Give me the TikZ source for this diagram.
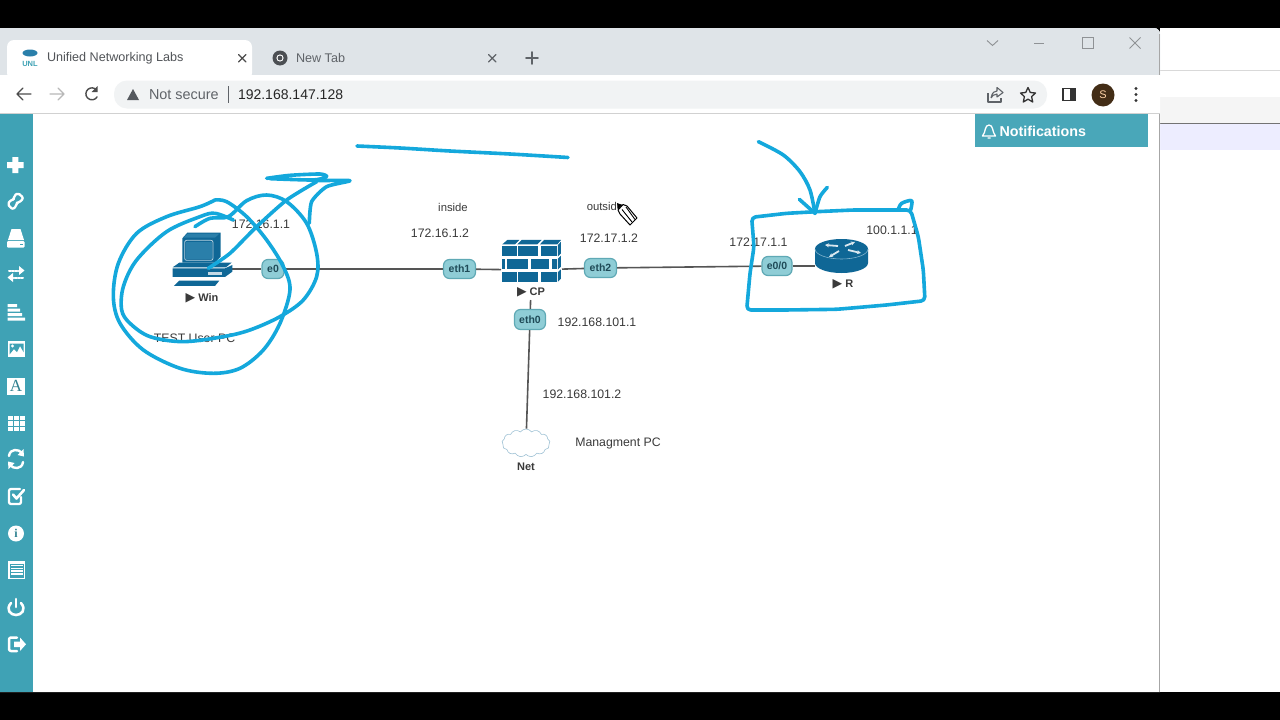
\documentclass[tikz,border=0pt]{standalone}
\usepackage{fontspec}
\setmainfont{Liberation Sans}
\newfontfamily\dejavu{DejaVu Sans}
\newfontfamily\libserif{Liberation Serif}
\usetikzlibrary{shapes.symbols,arrows.meta}
\definecolor{inkblue}{HTML}{14A8DC}
\definecolor{teal}{HTML}{3FA2B5}
\definecolor{icoblue}{HTML}{0F6796}
\definecolor{icolight}{HTML}{2A7FAA}
\definecolor{pillfill}{HTML}{8FCDD6}
\definecolor{pilledge}{HTML}{5FA9B5}
\definecolor{pilltext}{HTML}{1F4A57}
\definecolor{linkc}{HTML}{555555}
\definecolor{txt}{HTML}{3A3A3A}
\definecolor{chromebg}{HTML}{DFE4E8}
\definecolor{barbg}{HTML}{F1F3F4}
\definecolor{uigray}{HTML}{5F6368}
\tikzset{
  ink/.style={draw=inkblue,line width=3.6pt,line cap=round,line join=round},
  pill/.style={draw=pilledge,line width=1.2pt,fill=pillfill,rounded corners=6pt,inner sep=0pt,text=pilltext,font=\fontsize{10.5}{12}\selectfont\bfseries,minimum height=19pt},
  ghost/.style={inner sep=0pt,outer sep=0pt},
  conn/.style={draw=linkc,line width=1.6pt},
  lab/.style={text=txt,inner sep=0pt,font=\fontsize{12.3}{14}\selectfont},
  devlab/.style={text=txt,inner sep=0pt,font=\fontsize{11}{13}\selectfont\bfseries},
  ui/.style={draw=uigray,line width=1.4pt,line cap=round,line join=round},
  side/.style={fill=white,draw=none},
  sidel/.style={draw=white,line width=2.4pt,line cap=round,line join=round},
}
\newcommand{\tri}{{\dejavu\fontsize{12.5}{13}\selectfont ▶}}
\begin{document}
\begin{tikzpicture}[x=1pt,y=-1pt]
\useasboundingbox (0,0) rectangle (1280,720);
% page and backdrop
\fill[black] (0,0) rectangle (1280,720);
\fill[white] (1160,28) rectangle (1280,692);
\fill[white!96!black] (1160,97) rectangle (1280,123);
\draw[black!15] (1160,70) -- (1280,70);
\fill[blue!7] (1160,124) rectangle (1280,150);
\draw[black!55,line width=1pt] (1160,123.5) -- (1280,123.5);
% browser window
\fill[white] (0,28) -- (1154,28) arc[start angle=-90,end angle=0,radius=6] -- (1160,692) -- (0,692) -- cycle;
\fill[chromebg] (0,28) -- (1154,28) arc[start angle=-90,end angle=0,radius=6] -- (1160,75) -- (0,75) -- cycle;
\draw[black!35,line width=.8pt] (1159.6,34) -- (1159.6,692);
% tabs
\fill[white,rounded corners=7pt] (7,80) -- (7,40) -- (252,40) -- (252,80) -- cycle;
\fill[white] (0,75) rectangle (1160,113);
\draw[black!18] (0,113.5) -- (1160,113.5);
\fill[barbg,rounded corners=13pt] (114,80.5) rectangle (1047,108.5);
% UNL favicon
\fill[icolight] (30,53) ellipse[x radius=7.5,y radius=3.5];
\node[ghost,text=teal,font=\fontsize{7.5}{8}\selectfont\bfseries] (unl) at (30,63.5) {UNL};
\node[ghost,anchor=west,text=uigray!85!black,font=\fontsize{12.6}{14}\selectfont] (tab1) at (47,58) {Unified Networking Labs};
\draw[ui,black!70,line width=1.2pt] (238.5,54.5) -- (246,62) (246,54.5) -- (238.5,62);
% chrome icon
\fill[uigray!80!black] (280,58) circle[radius=7.5];
\fill[white] (280,58) circle[radius=3.6];
\fill[uigray!80!black] (280,58) circle[radius=2.4];
\node[ghost,anchor=west,text=uigray,font=\fontsize{12.6}{14}\selectfont] (tab2) at (296,58) {New Tab};
\draw[ui,line width=1.2pt] (488.5,54.5) -- (496,62) (496,54.5) -- (488.5,62);
\draw[ui,line width=1.7pt] (532,52) -- (532,64) (526,58) -- (538,58);
% window controls
\draw[uigray!70,line width=.9pt] (987,40.5) -- (992.5,45.5) -- (998,40.5);
\draw[uigray!70,line width=.9pt] (1034,43) -- (1044,43);
\draw[uigray!70,line width=.9pt] (1082.5,37.5) rectangle (1093.5,48.5);
\draw[uigray!70,line width=.9pt] (1129.5,37.5) -- (1140.5,48.5) (1140.5,37.5) -- (1129.5,48.5);
% toolbar
\draw[ui,line width=1.3pt,black!70] (31,94) -- (17,94) (23,88) -- (17,94) -- (23,100);
\draw[ui,line width=1.2pt,black!28] (64,94) -- (50,94) (58,88) -- (64,94) -- (58,100);
\draw[ui,line width=1.4pt,black!70] (96.5,90) arc[start angle=-40,end angle=-330,radius=6];
\fill[black!70] (97.5,86) -- (97.5,92) -- (91.5,92) -- cycle;
\fill[uigray!90!black] (133,89) -- (139,100) -- (127,100) -- cycle;
\node[ghost,anchor=west,text=uigray,font=\fontsize{14.4}{16}\selectfont] (ns) at (149,95) {Not secure};
\draw[uigray,line width=1pt] (228,86) -- (228,103);
\node[ghost,anchor=west,text=black!85,font=\fontsize{14}{16}\selectfont] (url) at (238,95) {192.168.147.128};
% share
\draw[uigray,line width=1.1pt,line join=round] (988,93) -- (988,102) -- (1001,102) -- (1001,98);
\draw[uigray,line width=1.1pt,line join=round] (991,98) .. controls (992,92) and (995,91) .. (997,91) -- (997,87.5) -- (1003,92.5) -- (997,97) -- (997,94) .. controls (994,94) and (992,96) .. (991,98);
% star
\draw[black!80,line width=1.3pt,line join=round] (1028,87.5) -- (1030.3,92.5) -- (1035.5,93) -- (1031.6,96.6) -- (1032.7,102) -- (1028,99.2) -- (1023.3,102) -- (1024.4,96.6) -- (1020.5,93) -- (1025.7,92.5) -- cycle;
% side panel
\draw[black!80,line width=1.5pt] (1063,88.5) rectangle (1075,100.5);
\fill[black!80] (1069.5,88.5) rectangle (1075,100.5);
% avatar
\node[circle,fill=brown!35!black,minimum size=23pt,inner sep=0pt,text=orange!35!white,font=\fontsize{11}{12}\selectfont] (avatar) at (1103,95) {S};
\fill[black!80] (1136,88.5) circle[radius=1.7] (1136,94.5) circle[radius=1.7] (1136,100.5) circle[radius=1.7];
% sidebar
\fill[teal] (0,114) rectangle (33,692);
% plus
\fill[side] (12.3,157) rectangle (18.3,173) (7,162) rectangle (23.5,168);
% link
\draw[sidel,line width=2.3pt,rounded corners=2pt] (13.5,199.5) -- (14,196) -- (18,192.8) -- (23.5,198) -- (19.5,202.5) -- (17,203);
\draw[sidel,line width=2.3pt,rounded corners=2pt] (17,202.5) -- (16.5,206) -- (12.5,209.5) -- (7.5,204) -- (11.5,199.5) -- (14,199);
% drive
\fill[side] (11.5,229) -- (20.5,229) -- (24,240) -- (8,240) -- cycle;
\fill[side,rounded corners=1pt] (7,241) rectangle (24.5,247.5);
\fill[teal] (20,243.5) rectangle (22.5,245);
% transfer arrows
\draw[sidel,line width=2pt,dash pattern=on 2pt off 1.2pt] (9,270.5) -- (19,270.5);
\fill[side] (19,266) -- (24.5,270.5) -- (19,275) -- cycle;
\draw[sidel,line width=2pt,dash pattern=on 2pt off 1.2pt] (23,277.5) -- (13,277.5);
\fill[side] (13,273) -- (7.5,277.5) -- (13,282) -- cycle;
% align
\fill[side] (7.5,304) rectangle (17,307) (7.5,308.5) rectangle (20,311.5) (7.5,313) rectangle (22,316) (7.5,317.5) rectangle (25,320.5);
% picture
\fill[side] (7.5,341) rectangle (25,357);
\fill[teal] (9.5,354.5) -- (14,349) -- (17,352) -- (20,346) -- (23.5,352) -- (23.5,343.5) -- (9.5,343.5) -- cycle;
\fill[white] (12.5,346) circle[radius=1.6];
% A
\node[fill=white,minimum width=18pt,minimum height=17pt,inner sep=0pt,text=teal!80!black,font=\libserif\fontsize{17}{18}\selectfont] (btnA) at (16,386) {A};
% grid
\foreach \cx in {8,14,20}{\foreach \cy in {415.5,421,426.5}{\fill[side] (\cx,\cy) rectangle ++(5,4.5);}}
% refresh
\draw[sidel,line width=2.4pt] (9,456) .. controls (10,448) and (19,449) .. (22,453);
\fill[side] (23.5,449) -- (24,456.5) -- (17.5,455) -- cycle;
\draw[sidel,line width=2.4pt] (23,462) .. controls (22,470) and (13,469) .. (10,465);
\fill[side] (8.5,469) -- (8,461.5) -- (14.5,463) -- cycle;
% check
\draw[sidel,line width=2.3pt,rounded corners=2pt] (21,497) -- (21,504) -- (9,504) -- (9,489) -- (20,489);
\draw[sidel,line width=2.6pt] (13,494.5) -- (16.5,498.5) -- (24,490);
% info
\node[circle,fill=white,minimum size=16pt,inner sep=0pt,text=teal!80!black,font=\libserif\fontsize{12}{13}\selectfont\bfseries] (btnI) at (16,533.5) {i};
% list
\fill[side] (8,561) rectangle (25,579);
\fill[teal] (9.5,563.5) rectangle (23.5,577.5);
\foreach \ly in {564.8,567.6,570.4,573.2}{\fill[side] (10.5,\ly) rectangle (23,\ly+1.6);}
% power
\draw[sidel,line width=2.6pt] (11,603) .. controls (5,610) and (11,615) .. (16,615) .. controls (21,615) and (27,610) .. (21,603);
\draw[sidel,line width=2.6pt] (16,599) -- (16,607);
% exit
\draw[sidel,line width=2.5pt,rounded corners=2pt] (17,637.5) -- (9,637.5) -- (9,651) -- (17,651);
\fill[side] (14,641.5) -- (20,641.5) -- (20,637.5) -- (26,644.3) -- (20,651) -- (20,647) -- (14,647) -- cycle;
% notifications
\fill[teal!95!white] (975,114) rectangle (1148,147);
\draw[white,line width=1.3pt,line join=round] (982.5,136) .. controls (986,132) and (984.5,125) .. (989,125) .. controls (993.5,125) and (992,132) .. (995.5,136) -- cycle (987.5,138) -- (990.5,138);
\node[ghost,anchor=west,text=white,font=\fontsize{14.3}{16}\selectfont\bfseries] (notif) at (999.5,131) {Notifications};
% device nodes (their icons are drawn below)
\node[ghost,minimum width=60pt,minimum height=72pt] (win) at (202,269) {};
\node[ghost,minimum width=61pt,minimum height=60pt] (cp) at (531.5,270) {};
\node[ghost,minimum width=53pt,minimum height=52pt] (r) at (841.5,266) {};
\node[cloud,cloud puffs=13,cloud puff arc=110,aspect=1.8,draw=icoblue!40,fill=white,line width=.6pt,minimum width=48pt,minimum height=28pt,inner sep=0pt] (net) at (526,443) {};
% ports
\node[pill,minimum width=22pt] (e0) at (273,269) {e0};
\node[pill,minimum width=32pt] (eth1) at (459.5,269) {eth1};
\node[pill,minimum width=32pt] (eth2) at (600.5,268) {eth2};
\node[pill,minimum width=31pt,minimum height=20pt] (eth0) at (530,319.5) {eth0};
\node[pill,minimum width=30pt] (e00) at (777,266) {e0/0};
% connectors
\draw[conn] (win) -- (e0);
\draw[conn] (e0) -- (eth1);
\draw[conn] (eth1) -- (cp);
\draw[conn] (cp) -- (eth2);
\draw[conn] (eth2) -- (e00);
\draw[conn] (e00) -- (r);
\draw[conn] (eth0) -- (cp);
\draw[conn] (eth0) -- (net);
% PC icon
\begin{scope}[shift={(100,160)},x=.3333pt,y=-.3333pt]
\fill[icoblue] (247,235) -- (262,218) -- (362,218) -- (362,290) -- (345,308) -- (247,308) -- cycle;
\fill[icolight] (250,233) -- (263,221) -- (358,221) -- (345,233) -- cycle;
\fill[icolight] (257,245) rectangle (336,298);
\draw[white!70!icoblue,line width=.8pt,rounded corners=2pt] (254,241) rectangle (339,301);
\fill[icoblue] (238,308) -- (395,308) -- (378,322) -- (218,322) -- cycle;
\fill[icoblue] (218,325) -- (375,325) -- (397,315) -- (397,335) -- (375,351) -- (218,351) -- cycle;
\fill[white!75!icoblue] (325,337) rectangle (365,344);
\fill[icoblue] (238,362) -- (358,362) -- (345,378) -- (222,378) -- cycle;
\end{scope}
% firewall icon
\begin{scope}[shift={(400,190)},x=.3333pt,y=-.3333pt]
\fill[icoblue] (307,163) -- (322,150) -- (358,150) -- (345,163) -- cycle;
\fill[icoblue] (352,163) -- (365,150) -- (425,150) -- (412,163) -- cycle;
\fill[icoblue] (420,163) -- (432,150) -- (483,150) -- (472,163) -- cycle;
\foreach \xa/\xb in {305/350,355/415,422/470}{\fill[icoblue] (\xa,167) rectangle (\xb,197);\fill[icoblue] (\xa,246) rectangle (\xb,275);}
\foreach \xa/\xb in {305/315,322/385,392/448,456/470}{\fill[icoblue] (\xa,206) rectangle (\xb,237);}
\fill[icoblue] (474,165) -- (483,155) -- (483,190) -- (474,199) -- cycle;
\fill[icoblue] (474,206) -- (483,197) -- (483,230) -- (474,238) -- cycle;
\fill[icoblue] (474,246) -- (483,238) -- (483,266) -- (474,275) -- cycle;
\end{scope}
% router icon
\fill[icoblue] (815,249) -- (815,263) arc[start angle=180,end angle=0,x radius=26.5,y radius=10] -- (868,249) -- cycle;
\fill[icoblue] (841.5,249) ellipse[x radius=26.5,y radius=10];
\draw[icolight!60!white,line width=.6pt] (815,249) arc[start angle=180,end angle=0,x radius=26.5,y radius=10];
\draw[white!85!icoblue,line width=1.8pt,-{Stealth[length=4pt,width=4pt]}] (838,246) -- (825,245);
\draw[white!85!icoblue,line width=1.8pt,-{Stealth[length=4pt,width=4pt]}] (845,246) -- (855,242);
\draw[white!85!icoblue,line width=1.8pt,-{Stealth[length=4pt,width=4pt]}] (848,250) -- (861,253);
\draw[white!85!icoblue,line width=1.8pt,-{Stealth[length=4pt,width=4pt]}] (839,251) -- (829,257);
% device labels
\node[devlab] (winlab) at (202,298) {\tri\ Win};
\node[devlab] (cplab) at (531,292) {\tri\ CP};
\node[devlab] (rlab) at (843,284) {\tri\ R};
\node[devlab] (netlab) at (526,466.5) {Net};
% annotations
\node[lab,font=\fontsize{11.3}{13}\selectfont] (inside) at (453,207.5) {inside};
\node[lab,font=\fontsize{11.3}{13}\selectfont] (outside) at (605,206.5) {outside};
\node[lab] (a1) at (440,233.5) {172.16.1.2};
\node[lab] (a2) at (609,238) {172.17.1.2};
\node[lab] (a3) at (261,224) {172.16.1.1};
\node[lab] (a4) at (194.5,338) {TEST User PC};
\node[lab] (a5) at (597,322) {192.168.101.1};
\node[lab] (a6) at (582,394.5) {192.168.101.2};
\node[lab] (a7) at (618,443.5) {Managment PC};
\node[lab] (a8) at (758.5,242.5) {172.17.1.1};
\node[lab] (a9) at (892,230) {100.1.1.1};
% pencil cursor
\draw[black,fill=white,line width=1pt,line join=round] (618,210) -- (623,204.5) -- (627,206) -- (637,218) -- (630,225) -- (620,214) -- cycle;
\draw[black,line width=.9pt] (622,209.5) -- (632,222) (626,207) -- (635,219.5);
\fill[black] (617,203) -- (622,205) -- (618,209.5) -- cycle;
% ink strokes
\draw[ink] plot[smooth,tension=.5] coordinates {(357,146) (400,148) (450,151) (510,154) (568,157.5)};
\begin{scope}[shift={(100,160)},x=.3333pt,y=-.3333pt]
\draw[ink] plot[smooth,tension=.55] coordinates {(285,200) (330,175) (385,170) (440,122) (500,105) (560,125) (620,190) (650,280) (650,350) (610,420) (540,470) (450,510) (370,530) (250,545) (150,530) (90,490) (65,450) (70,380) (110,300) (200,215) (300,170) (345,160) (400,180)};
\draw[ink] plot[smooth,tension=.55] coordinates {(345,120) (380,125) (440,170) (500,240) (550,320) (570,390) (540,490) (490,570) (420,625) (340,640) (240,625) (130,570) (60,490) (40,410) (55,310) (110,220) (200,170) (300,140) (345,120)};
\draw[ink] plot[smooth,tension=.4] coordinates {(325,325) (390,280) (470,200) (560,120) (650,65)};
\draw[ink] plot[smooth,tension=.4] coordinates {(650,62) (750,62) (680,80) (635,125) (628,190)};
\draw[ink] plot[smooth,tension=.4] coordinates {(500,55) (570,46) (660,42) (680,50) (640,60) (510,56)};
\end{scope}
\begin{scope}[shift={(720,130)},x=.3333pt,y=-.3333pt]
\draw[ink] plot[smooth,tension=.5] coordinates {(115,35) (190,75) (240,125) (270,180) (285,250)};
\draw[ink] plot[smooth,tension=.4] coordinates {(238,208) (285,250)};
\draw[ink] plot[smooth,tension=.4] coordinates {(285,250) (300,200) (322,172)};
\draw[ink,rounded corners=4pt] (95,262) -- (200,250) -- (290,245) -- (400,240) -- (572,240) -- (595,320) -- (610,420) -- (615,512) -- (500,525) -- (350,538) -- (200,540) -- (80,540) -- (90,430) -- (102,350) -- cycle;
\draw[ink] plot[smooth,tension=.5] coordinates {(535,238) (545,220) (575,212) (572,240)};
\end{scope}
\end{tikzpicture}
\end{document}
